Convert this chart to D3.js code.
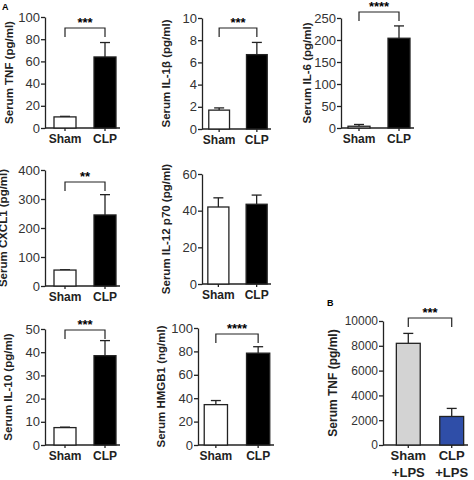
<!DOCTYPE html><html><head><meta charset="utf-8">
<script src="https://cdn.jsdelivr.net/npm/d3@7"></script>
<style>body{margin:0;background:#fff}text{font-family:Arial,"Liberation Sans",sans-serif}</style></head><body>
<svg id="c" width="474" height="480"></svg>
<script>
const titles=["Serum TNF (pg/ml)","Serum IL-1β (pg/ml)","Serum IL-6 (pg/ml)","Serum CXCL1 (pg/ml)","Serum IL-12 p70 (pg/ml)","Serum IL-10 (pg/ml)","Serum HMGB1 (ng/ml)","Serum TNF (pg/ml)"];
const means=[[10,64],[1.7,6.7],[4,204],[55,245],[42,43.5],[7.5,38.5],[34.5,78.5],[8200,2300]];
const errs=[[0.5,13],[0.2,1.1],[4,28],[1,70],[5,5],[0.2,6.5],[3.5,5.5],[800,650]];
const maxes=[100,10,250,400,60,50,100,10000];
const tickSteps=[20,2,50,100,20,10,20,2000];
const stars=["***","***","****","**","","***","****","***"];
const cats=[["Sham","CLP"],["Sham","CLP"],["Sham","CLP"],["Sham","CLP"],["Sham","CLP"],["Sham","CLP"],["Sham","CLP"],["Sham\n+LPS","CLP\n+LPS"]];
const fills=[["#fff","#000"],["#fff","#000"],["#fff","#000"],["#fff","#000"],["#fff","#000"],["#fff","#000"],["#fff","#000"],["#d3d3d3","#2f4ea8"]];
// layout: [axisX, topY, bottomY, barsX0, barsX1, bracketY, titleOffset]
const lay=[[45,17,128,50,120,28,32],[202,18,129,205,271,28,32],[341,18,128,344,414,12,30],[45,170,286,50,120,182,38],[202,174,284,204,271,null,32],[45,329,445,50,120,330,33],[198,328,445,200,274,334,33],[383,321,445,392,468,318,46]];
const svg=d3.select("#c");
svg.append("text").attr("x",2).attr("y",10).attr("font-size",9).attr("font-weight","bold").text("A");
svg.append("text").attr("x",327).attr("y",306).attr("font-size",9).attr("font-weight","bold").text("B");
lay.forEach((L,i)=>{
  const [ax,ty,by,x0,x1,bry,to]=L;
  const g=svg.append("g");
  const y=d3.scaleLinear().domain([0,maxes[i]]).range([by,ty]);
  const x=d3.scaleBand().domain(cats[i]).range([x0,x1]).paddingInner(0.45).paddingOuter(0.1);
  g.append("g").attr("transform",`translate(${ax},0)`).call(d3.axisLeft(y).tickValues(d3.range(0,maxes[i]+1e-9,tickSteps[i])).tickFormat(d3.format("d")).tickSize(4).tickSizeOuter(0))
   .call(a=>{a.select(".domain").attr("stroke","#222").attr("stroke-width",1.3);a.selectAll("line").attr("stroke","#222").attr("stroke-width",1.3);a.selectAll("text").attr("font-size",i==7?12:13).attr("fill","#333").attr("x",-5);});
  g.append("line").attr("x1",ax).attr("x2",x1).attr("y1",by).attr("y2",by).attr("stroke","#222").attr("stroke-width",1.3);
  cats[i].forEach((c,j)=>{
    const bx=x(c),bw=x.bandwidth(),m=means[i][j],e=errs[i][j],cx=bx+bw/2;
    g.append("line").attr("x1",cx).attr("x2",cx).attr("y1",y(m)).attr("y2",y(m+e)).attr("stroke","#222").attr("stroke-width",1.3);
    g.append("line").attr("x1",cx-5).attr("x2",cx+5).attr("y1",y(m+e)).attr("y2",y(m+e)).attr("stroke","#222").attr("stroke-width",1.3);
    g.append("rect").attr("x",bx).attr("width",bw).attr("y",y(m)).attr("height",by-y(m)).attr("fill",fills[i][j]).attr("stroke","#222").attr("stroke-width",1.3);
    g.append("line").attr("x1",cx).attr("x2",cx).attr("y1",by).attr("y2",by+3).attr("stroke","#222").attr("stroke-width",1.3);
    const t=g.append("text").attr("x",cx).attr("y",by+15).attr("text-anchor","middle").attr("font-size",i==7?13:12).attr("font-weight","bold").attr("fill","#222");
    c.split("\n").forEach((s,k)=>t.append("tspan").attr("x",cx).attr("dy",k?17:0).text(s));
  });
  if(bry!=null){
    const c0=x(cats[i][0])+x.bandwidth()/2,c1=x(cats[i][1])+x.bandwidth()/2;
    g.append("path").attr("d",`M${c0},${bry+9}V${bry}H${c1}V${bry+9}`).attr("fill","none").attr("stroke","#222").attr("stroke-width",1.2);
    g.append("text").attr("x",(c0+c1)/2).attr("y",bry-1).attr("text-anchor","middle").attr("font-size",13).attr("font-weight","bold").text(stars[i]);
  }
  g.append("text").attr("transform",`translate(${ax-to},${(ty+by)/2}) rotate(-90)`).attr("text-anchor","middle").attr("font-size",i==7?12:11.5).attr("font-weight","bold").attr("fill","#222").text(titles[i]);
});
</script></body></html>
